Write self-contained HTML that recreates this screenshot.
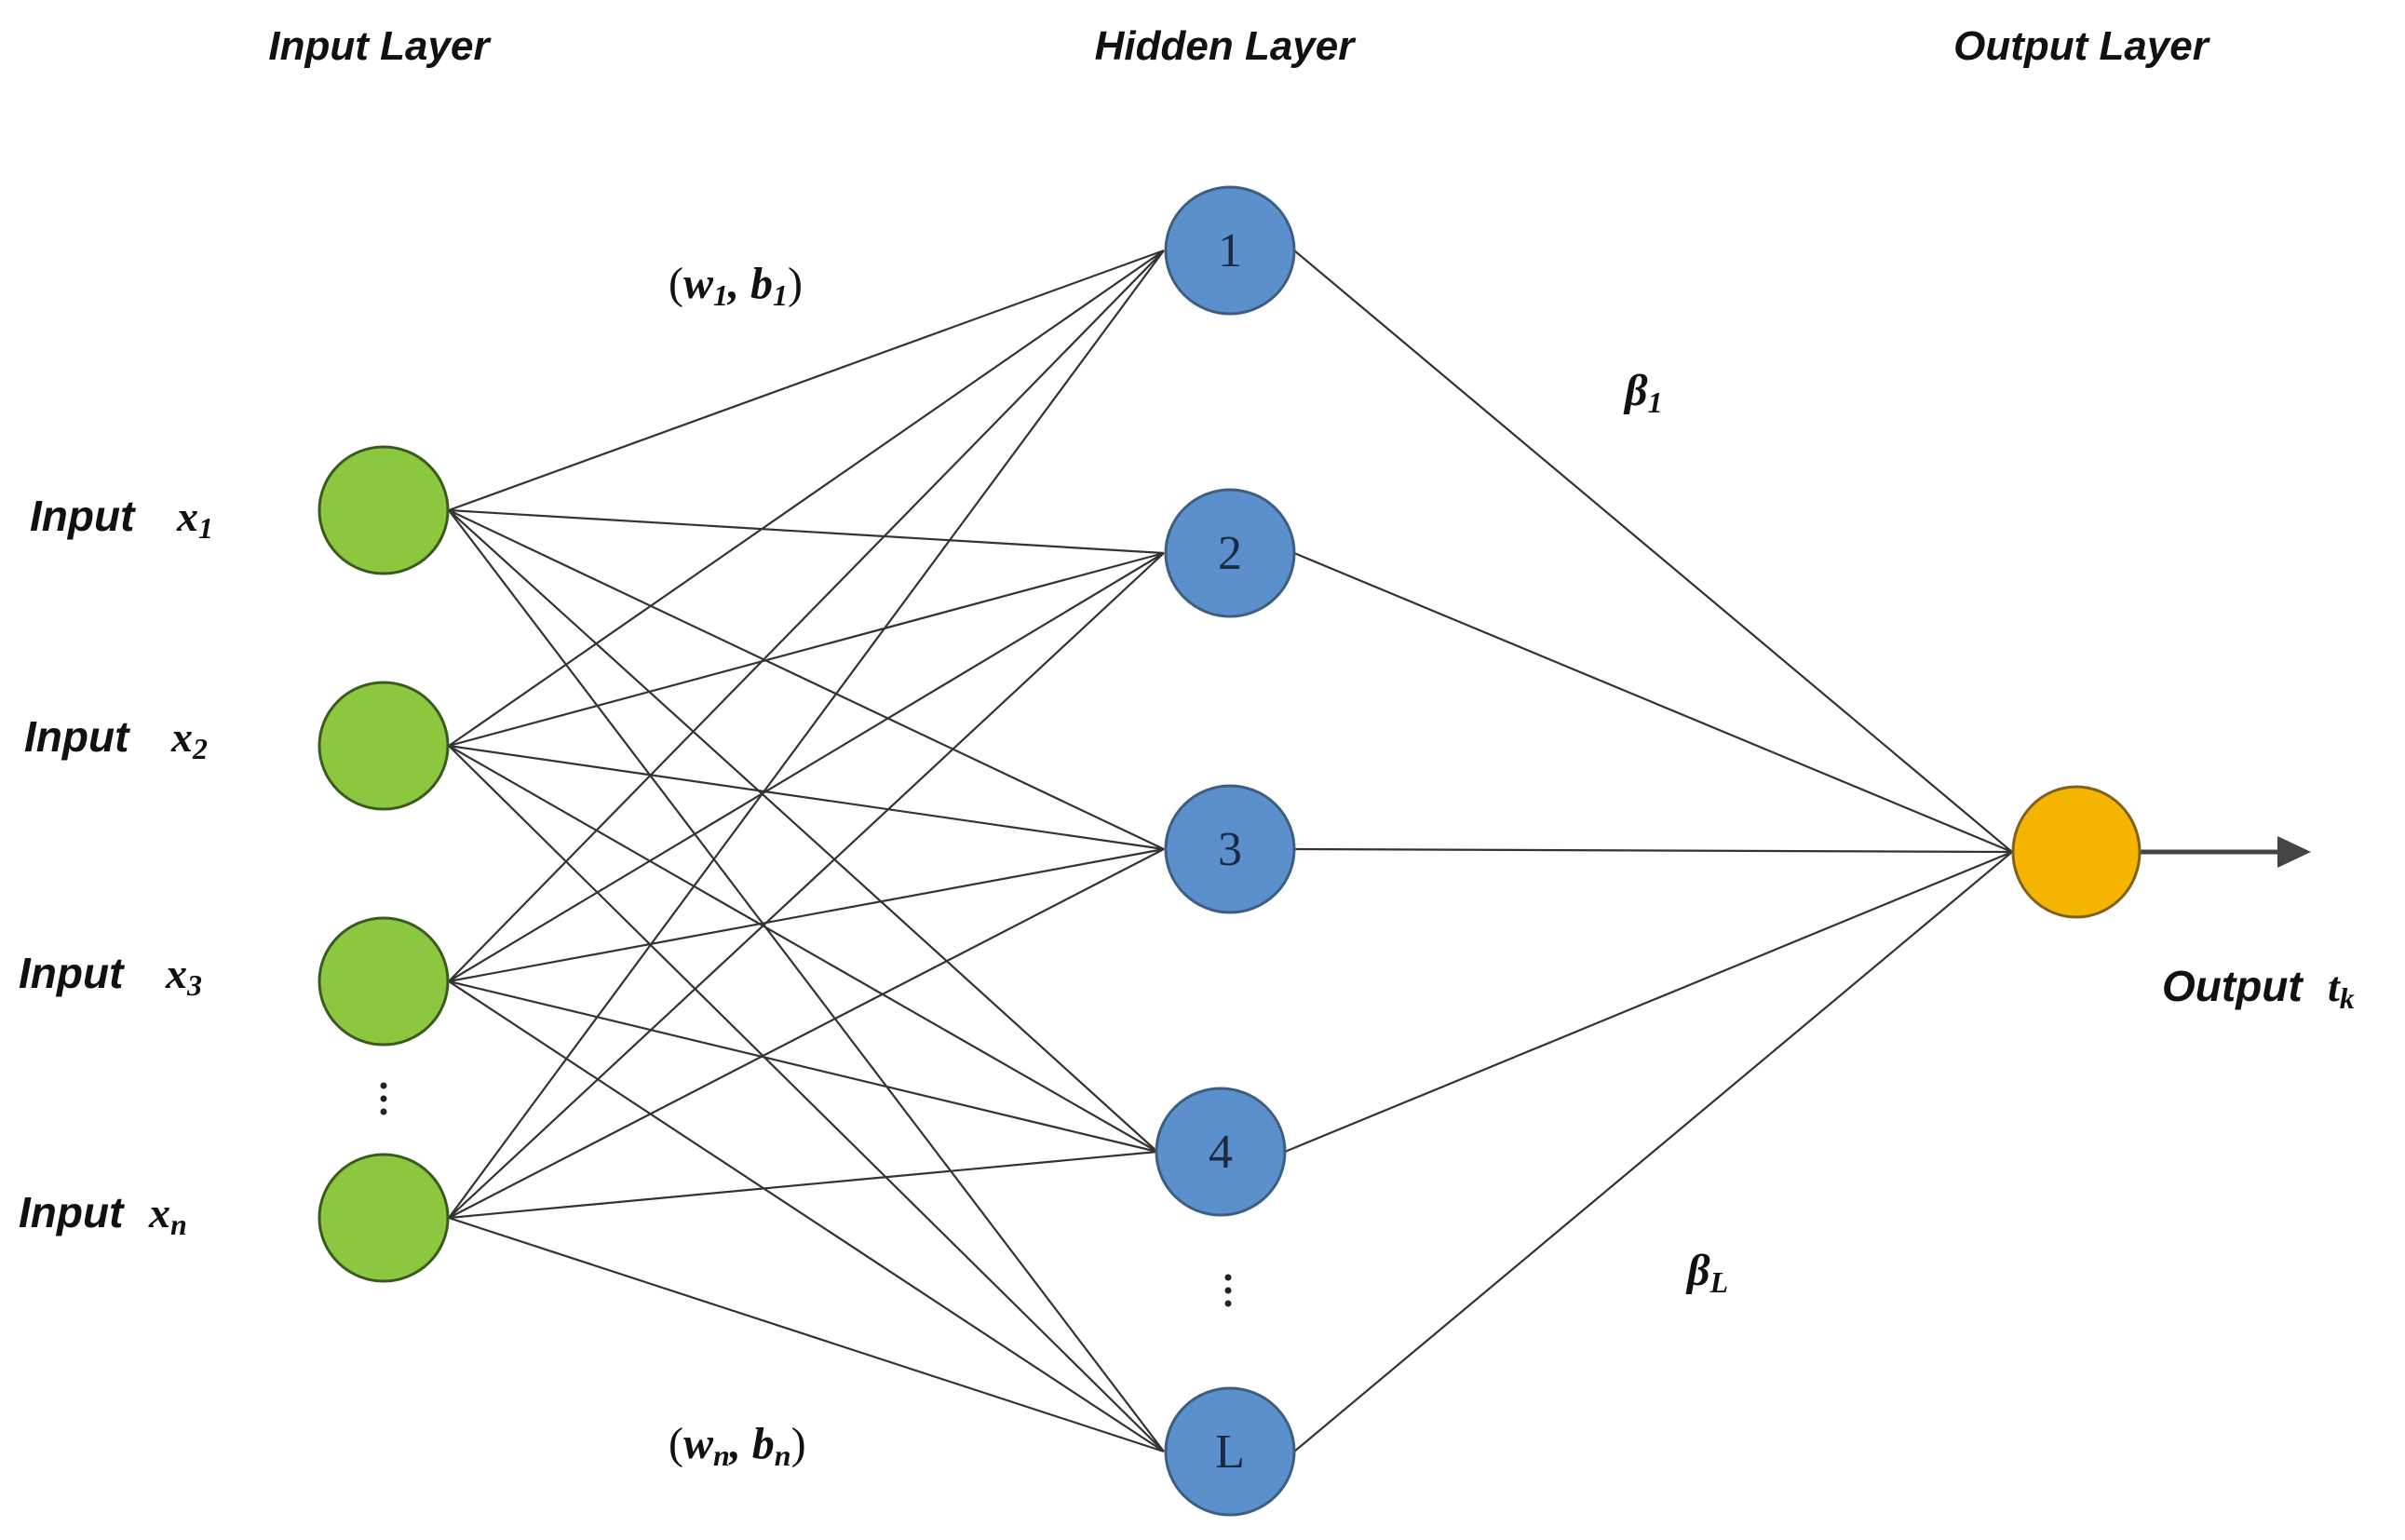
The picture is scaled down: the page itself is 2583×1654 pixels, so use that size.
<!DOCTYPE html>
<html><head><meta charset="utf-8"><style>
html,body{margin:0;padding:0;background:#fff;}
svg{display:block;}
.lab{font-family:"Liberation Sans",sans-serif;font-style:italic;font-weight:bold;fill:#111;}
.m{font-family:"Liberation Serif",serif;font-style:italic;font-weight:bold;fill:#111;}
.n{font-family:"Liberation Serif",serif;fill:#1a2a40;}
</style></head><body>
<svg width="2583" height="1654" viewBox="0 0 2583 1654" xmlns="http://www.w3.org/2000/svg">
<g stroke="#333" stroke-width="2.2" fill="none">
<!-- input to hidden -->
<g id="c">
</g>
<path d="
M482 548L1250 269M482 548L1250 594M482 548L1250 912M482 548L1243 1237M482 548L1250 1559
M482 801L1250 269M482 801L1250 594M482 801L1250 912M482 801L1243 1237M482 801L1250 1559
M482 1054L1250 269M482 1054L1250 594M482 1054L1250 912M482 1054L1243 1237M482 1054L1250 1559
M482 1308L1250 269M482 1308L1250 594M482 1308L1250 912M482 1308L1243 1237M482 1308L1250 1559"/>
<path d="M1390 269L2161 915M1390 594L2161 915M1390 912L2161 915M1380 1237L2161 915M1390 1559L2161 915"/>
</g>
<line x1="2298" y1="915" x2="2450" y2="915" stroke="#444" stroke-width="5"/>
<polygon points="2446,898 2482,915 2446,932" fill="#444"/>
<g fill="#8cc83f" stroke="#3a5a20" stroke-width="3">
<ellipse cx="412" cy="548" rx="69" ry="68"/>
<ellipse cx="412" cy="801" rx="69" ry="68"/>
<ellipse cx="412" cy="1054" rx="69" ry="68"/>
<ellipse cx="412" cy="1308" rx="69" ry="68"/>
</g>
<g fill="#5b90cc" stroke="#3d5e80" stroke-width="3">
<ellipse cx="1321" cy="269" rx="69" ry="68"/>
<ellipse cx="1321" cy="594" rx="69" ry="68"/>
<ellipse cx="1321" cy="912" rx="69" ry="68"/>
<ellipse cx="1311" cy="1237" rx="69" ry="68"/>
<ellipse cx="1321" cy="1559" rx="69" ry="68"/>
</g>
<ellipse cx="2230" cy="915" rx="68" ry="70" fill="#f4b400" stroke="#806020" stroke-width="3"/>
<g class="n" font-size="52" text-anchor="middle">
<text x="1321" y="286">1</text><text x="1321" y="611">2</text><text x="1321" y="929">3</text><text x="1311" y="1254">4</text><text x="1321" y="1576">L</text>
</g>
<g fill="#222">
<circle cx="412" cy="1166" r="3.5"/><circle cx="412" cy="1180" r="3.5"/><circle cx="412" cy="1194" r="3.5"/>
<circle cx="1319" cy="1372" r="3.5"/><circle cx="1319" cy="1386" r="3.5"/><circle cx="1319" cy="1400" r="3.5"/>
</g>
<g class="lab" font-size="44" text-anchor="middle">
<text x="407" y="64">Input Layer</text>
<text x="1315" y="64">Hidden Layer</text>
<text x="2235" y="64">Output Layer</text>
</g>
<g class="lab" font-size="46">
<text x="32" y="570">Input</text><text x="190" y="570" class="m">x<tspan font-size="32" dy="8">1</tspan></text>
<text x="26" y="807">Input</text><text x="184" y="807" class="m">x<tspan font-size="32" dy="8">2</tspan></text>
<text x="20" y="1061">Input</text><text x="178" y="1061" class="m">x<tspan font-size="32" dy="8">3</tspan></text>
<text x="20" y="1318">Input</text><text x="160" y="1318" class="m">x<tspan font-size="32" dy="8">n</tspan></text>
<text x="2322" y="1075">Output</text><text x="2500" y="1075" class="m">t<tspan font-size="32" dy="8">k</tspan></text>
</g>
<g class="m" font-size="48">
<text x="718" y="320"><tspan font-style="normal" font-weight="normal">(</tspan>w<tspan font-size="32" dy="8">1</tspan><tspan dy="-8">, b</tspan><tspan font-size="32" dy="8">1</tspan><tspan dy="-8" font-style="normal" font-weight="normal">)</tspan></text>
<text x="718" y="1566"><tspan font-style="normal" font-weight="normal">(</tspan>w<tspan font-size="32" dy="8">n</tspan><tspan dy="-8">, b</tspan><tspan font-size="32" dy="8">n</tspan><tspan dy="-8" font-style="normal" font-weight="normal">)</tspan></text>
<text x="1745" y="435">β<tspan font-size="32" dy="8">1</tspan></text>
<text x="1812" y="1380">β<tspan font-size="32" dy="8">L</tspan></text>
</g>
</svg>
</body></html>
